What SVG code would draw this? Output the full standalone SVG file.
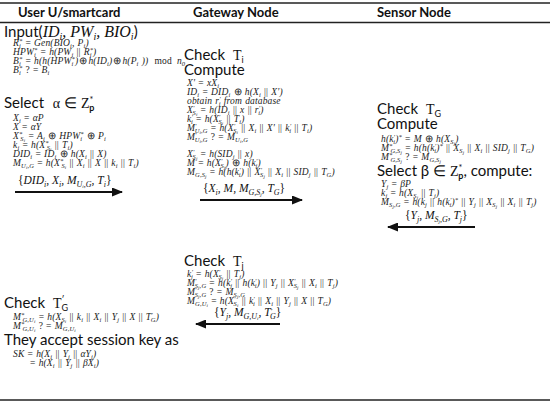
<svg xmlns="http://www.w3.org/2000/svg" width="550" height="406" viewBox="0 0 550 406">
<style>
.h{font-family:Lato,"Liberation Sans",sans-serif;font-weight:bold;font-size:13px;fill:#111}
.t{font-family:Lato,"Liberation Sans",sans-serif;font-size:15px;fill:#111}
.T{font-family:"Liberation Serif",serif;font-size:14px}
.Tb{font-size:9px;baseline-shift:-3px}
.Tp{font-size:9px;baseline-shift:5px}
.f{font-family:"Liberation Serif",serif;font-style:italic;font-size:9.5px;letter-spacing:0.15px;word-spacing:0.6px;fill:#222}
.m{font-family:"Liberation Serif",serif;font-style:italic;font-size:11.5px;fill:#111}
.in{font-family:"Liberation Serif",serif;font-style:italic;font-size:16px}
.r{font-style:normal}
.b{font-size:6.5px;baseline-shift:-2px}
.bb{font-size:5px;baseline-shift:-1px}
.p{font-size:6.5px;baseline-shift:3.5px}
.m .b{font-size:8px;baseline-shift:-3px}
.in .b{font-size:10px;baseline-shift:-3px}
.rule{stroke:#222;stroke-width:1.6}
.arr{stroke:#111;stroke-width:2;fill:none}
</style>
<defs>
<marker id="ah" markerWidth="11" markerHeight="9" refX="10" refY="4.5" orient="auto" markerUnits="userSpaceOnUse">
<path d="M0,0 L11,4.5 L0,9 Z" fill="#111"/>
</marker>
</defs>

<g id="header">
<line class="rule" x1="0" y1="3" x2="550" y2="3"/>
<line class="rule" x1="0" y1="22.5" x2="550" y2="22.5"/>
<line class="rule" x1="0" y1="400" x2="550" y2="400"/>
<text class="h" x="18" y="17">User U/smartcard</text>
<text class="h" x="193" y="17">Gateway Node</text>
<text class="h" x="377" y="17">Sensor Node</text>
</g>

<g id="user">
<text class="t" x="4" y="37">Input(<tspan class="in">ID<tspan class="b">i</tspan>, PW<tspan class="b">i</tspan>, BIO<tspan class="b">i</tspan></tspan>)</text>
<text class="f" x="13" y="46">R<tspan class="b">i</tspan><tspan class="p" dx="-2">*</tspan> <tspan class="r">=</tspan> Gen(BIO<tspan class="b">i</tspan>, P<tspan class="b">i</tspan>)</text>
<text class="f" x="13" y="55">HPW<tspan class="b">i</tspan><tspan class="p" dx="-2">*</tspan> <tspan class="r">=</tspan> h(PW<tspan class="b">i</tspan> <tspan class="r">||</tspan> R<tspan class="b">i</tspan><tspan class="p" dx="-2">*</tspan>)</text>
<text class="f" x="13" y="64">B<tspan class="b">i</tspan><tspan class="p" dx="-2">*</tspan> <tspan class="r">=</tspan> h(h(HPW<tspan class="b">i</tspan><tspan class="p" dx="-2">*</tspan>)<tspan class="r" dx="1">⊕</tspan><tspan dx="1">h(ID</tspan><tspan class="b">i</tspan>)<tspan class="r" dx="1">⊕</tspan><tspan dx="1">h(P</tspan><tspan class="b">i</tspan> )) <tspan class="r" dx="3">mod</tspan> <tspan dx="2">n</tspan><tspan class="b">0</tspan></text>
<text class="f" x="13" y="73">B<tspan class="b">i</tspan><tspan class="p" dx="-2">*</tspan> <tspan class="r">? =</tspan> B<tspan class="b">i</tspan></text>

<text class="t" x="4" y="108">Select <tspan class="T" dx="5">α</tspan> ∈ <tspan class="T">Z</tspan><tspan class="Tp">*</tspan><tspan class="Tb" dx="-4" font-weight="bold">p</tspan></text>
<text class="f" x="13" y="121">X<tspan class="b">i</tspan> <tspan class="r">=</tspan> αP</text>
<text class="f" x="13" y="130">X <tspan class="r">=</tspan> αY</text>
<text class="f" x="13" y="139">X<tspan class="p">*</tspan><tspan class="b" dx="-2">S<tspan class="bb">i</tspan></tspan> <tspan class="r">=</tspan> A<tspan class="b">i</tspan> <tspan class="r">⊕</tspan> HPW<tspan class="b">i</tspan><tspan class="p" dx="-2">*</tspan> <tspan class="r">⊕</tspan> P<tspan class="b">i</tspan></text>
<text class="f" x="13" y="148">k<tspan class="b">i</tspan> <tspan class="r">=</tspan> h(X<tspan class="p">*</tspan><tspan class="b" dx="-2">S<tspan class="bb">i</tspan></tspan> <tspan class="r">||</tspan> T<tspan class="b">i</tspan>)</text>
<text class="f" x="13" y="157">DID<tspan class="b">i</tspan> <tspan class="r">=</tspan> ID<tspan class="b">i</tspan> <tspan class="r">⊕</tspan> h(X<tspan class="b">i</tspan> <tspan class="r">||</tspan> X)</text>
<text class="f" x="13" y="166">M<tspan class="b">U<tspan class="bb">i</tspan>,G</tspan> <tspan class="r">=</tspan> h(X<tspan class="p">*</tspan><tspan class="b" dx="-2">S<tspan class="bb">i</tspan></tspan> <tspan class="r">||</tspan> X<tspan class="b">i</tspan> <tspan class="r">||</tspan> X <tspan class="r">||</tspan> k<tspan class="b">i</tspan> <tspan class="r">||</tspan> T<tspan class="b">i</tspan>)</text>

<text class="t" x="4" y="308">Check <tspan class="T" dx="4">T</tspan><tspan class="Tp">′</tspan><tspan class="Tb" dx="-3">G</tspan></text>
<text class="f" x="13" y="320">M<tspan class="p">*</tspan><tspan class="b" dx="-2">G,U<tspan class="bb">i</tspan></tspan> <tspan class="r">=</tspan> h(X<tspan class="b">S<tspan class="bb">i</tspan></tspan> <tspan class="r">||</tspan> k<tspan class="b">i</tspan>  <tspan class="r">||</tspan> X<tspan class="b">i</tspan> <tspan class="r">||</tspan> Y<tspan class="b">j</tspan> <tspan class="r">||</tspan> X <tspan class="r">||</tspan> T<tspan class="p">′</tspan><tspan class="b" dx="-2">G</tspan>)</text>
<text class="f" x="13" y="329">M<tspan class="p">*</tspan><tspan class="b" dx="-2">G,U<tspan class="bb">i</tspan></tspan> <tspan class="r">? =</tspan> M<tspan class="b">G,U<tspan class="bb">i</tspan></tspan></text>
<text class="t" x="4" y="345">They accept session key as</text>
<text class="f" x="13" y="357">SK <tspan class="r">=</tspan> h(X<tspan class="b">i</tspan> <tspan class="r">||</tspan> Y<tspan class="b">j</tspan> <tspan class="r">||</tspan> αY<tspan class="b">j</tspan>)</text>
<text class="f" x="30" y="366"><tspan class="r">=</tspan> h(X<tspan class="b">i</tspan> <tspan class="r">||</tspan> Y<tspan class="b">j</tspan> <tspan class="r">||</tspan> βX<tspan class="b">i</tspan>)</text>
</g>

<g id="gateway">
<text class="t" x="184" y="60">Check <tspan class="T" dx="4">T</tspan><tspan class="Tb">i</tspan></text>
<text class="t" x="184" y="75">Compute</text>
<text class="f" x="187" y="86">X' <tspan class="r">=</tspan> xX<tspan class="b">i</tspan></text>
<text class="f" x="187" y="95">ID<tspan class="b">i</tspan> <tspan class="r">=</tspan> DID<tspan class="b">i</tspan> <tspan class="r">⊕</tspan> h(X<tspan class="b">i</tspan> <tspan class="r">||</tspan> X')</text>
<text class="f" x="187" y="104">obtain r<tspan class="p">′</tspan><tspan class="b" dx="-2">i</tspan> from database</text>
<text class="f" x="187" y="113">X<tspan class="p">′</tspan><tspan class="b" dx="-2">S<tspan class="bb">i</tspan></tspan> <tspan class="r">=</tspan> h(ID<tspan class="b">i</tspan> <tspan class="r">||</tspan> x <tspan class="r">||</tspan> r<tspan class="p">′</tspan><tspan class="b" dx="-2">i</tspan>)</text>
<text class="f" x="187" y="122">k<tspan class="p">′</tspan><tspan class="b" dx="-2">i</tspan> <tspan class="r">=</tspan> h(X<tspan class="p">′</tspan><tspan class="b" dx="-2">S<tspan class="bb">i</tspan></tspan> <tspan class="r">||</tspan> T<tspan class="b">i</tspan>)</text>
<text class="f" x="187" y="131">M<tspan class="p">′</tspan><tspan class="b" dx="-2">U<tspan class="bb">i</tspan>,G</tspan> <tspan class="r">=</tspan> h(X<tspan class="p">′</tspan><tspan class="b" dx="-2">S<tspan class="bb">i</tspan></tspan> <tspan class="r">||</tspan> X<tspan class="b">i</tspan> <tspan class="r">||</tspan> X' <tspan class="r">||</tspan> k<tspan class="p">′</tspan><tspan class="b" dx="-2">i</tspan> <tspan class="r">||</tspan> T<tspan class="b">i</tspan>)</text>
<text class="f" x="187" y="140">M<tspan class="p">′</tspan><tspan class="b" dx="-2">U<tspan class="bb">i</tspan>,G</tspan> <tspan class="r">? =</tspan> M<tspan class="b">U<tspan class="bb">i</tspan>,G</tspan></text>
<text class="f" x="187" y="157">X<tspan class="p">′</tspan><tspan class="b" dx="-2">S<tspan class="bb">j</tspan></tspan> <tspan class="r">=</tspan> h(SID<tspan class="b">j</tspan> <tspan class="r">||</tspan> x)</text>
<text class="f" x="187" y="166">M <tspan class="r">=</tspan> h(X<tspan class="p">′</tspan><tspan class="b" dx="-2">S<tspan class="bb">j</tspan></tspan>) <tspan class="r">⊕</tspan> h(k<tspan class="p">′</tspan><tspan class="b" dx="-2">i</tspan>)</text>
<text class="f" x="187" y="175">M<tspan class="b">G,S<tspan class="bb">j</tspan></tspan> <tspan class="r">=</tspan> h(h(k<tspan class="p">′</tspan><tspan class="b" dx="-2">i</tspan>) <tspan class="r">||</tspan> X<tspan class="p">′</tspan><tspan class="b" dx="-2">S<tspan class="bb">j</tspan></tspan> <tspan class="r">||</tspan> X<tspan class="b">i</tspan> <tspan class="r">||</tspan> SID<tspan class="b">j</tspan> <tspan class="r">||</tspan> T<tspan class="b">G</tspan>)</text>

<text class="t" x="184" y="266">Check <tspan class="T" dx="4">T</tspan><tspan class="Tb">j</tspan></text>
<text class="f" x="187" y="277">k<tspan class="p">′</tspan><tspan class="b" dx="-2">j</tspan> <tspan class="r">=</tspan> h(X<tspan class="p">′</tspan><tspan class="b" dx="-2">S<tspan class="bb">j</tspan></tspan> <tspan class="r">||</tspan> T<tspan class="b">j</tspan>)</text>
<text class="f" x="187" y="286">M<tspan class="p">′</tspan><tspan class="b" dx="-2">S<tspan class="bb">j</tspan>,G</tspan> <tspan class="r">=</tspan> h(k<tspan class="p">′</tspan><tspan class="b" dx="-2">j</tspan> <tspan class="r">||</tspan> h(k<tspan class="p">′</tspan><tspan class="b" dx="-2">i</tspan>) <tspan class="r">||</tspan> Y<tspan class="b">j</tspan> <tspan class="r">||</tspan> X<tspan class="p">′</tspan><tspan class="b" dx="-2">S<tspan class="bb">j</tspan></tspan> <tspan class="r">||</tspan> X<tspan class="b">i</tspan> <tspan class="r">||</tspan> T<tspan class="b">j</tspan>)</text>
<text class="f" x="187" y="295">M<tspan class="p">′</tspan><tspan class="b" dx="-2">S<tspan class="bb">j</tspan>,G</tspan> <tspan class="r">? =</tspan> M<tspan class="b">S<tspan class="bb">j</tspan>,G</tspan></text>
<text class="f" x="187" y="304">M<tspan class="b">G,U<tspan class="bb">i</tspan></tspan> <tspan class="r">=</tspan> h(X<tspan class="p">′</tspan><tspan class="b" dx="-2">S<tspan class="bb">i</tspan></tspan> <tspan class="r">||</tspan> k<tspan class="p">′</tspan><tspan class="b" dx="-2">i</tspan> <tspan class="r">||</tspan> X<tspan class="b">i</tspan> <tspan class="r">||</tspan> Y<tspan class="b">j</tspan> <tspan class="r">||</tspan> X <tspan class="r">||</tspan> T<tspan class="b">G</tspan>)</text>
</g>

<g id="sensor">
<text class="t" x="377" y="114">Check <tspan class="T" dx="4">T</tspan><tspan class="Tb">G</tspan></text>
<text class="t" x="377" y="129">Compute</text>
<text class="f" x="381" y="142">h(k<tspan class="p">′</tspan><tspan class="b" dx="-2">i</tspan>)<tspan class="p">*</tspan> <tspan class="r">=</tspan> M <tspan class="r">⊕</tspan> h(X<tspan class="b">S<tspan class="bb">j</tspan></tspan>)</text>
<text class="f" x="381" y="151">M<tspan class="p">*</tspan><tspan class="b" dx="-2">G,S<tspan class="bb">j</tspan></tspan> <tspan class="r">=</tspan> h(h(k<tspan class="p">′</tspan><tspan class="b" dx="-2">i</tspan>)<tspan class="p">*</tspan> <tspan class="r">||</tspan> X<tspan class="b">S<tspan class="bb">j</tspan></tspan> <tspan class="r">||</tspan> X<tspan class="b">i</tspan> <tspan class="r">||</tspan> SID<tspan class="b">j</tspan> <tspan class="r">||</tspan> T<tspan class="b">G</tspan>)</text>
<text class="f" x="381" y="160">M<tspan class="p">*</tspan><tspan class="b" dx="-2">G,S<tspan class="bb">j</tspan></tspan> <tspan class="r">? =</tspan> M<tspan class="b">G,S<tspan class="bb">j</tspan></tspan></text>
<text class="t" x="377" y="176">Select β ∈ <tspan class="T">Z</tspan><tspan class="Tp">*</tspan><tspan class="Tb" dx="-4" font-weight="bold">p</tspan>, compute:</text>
<text class="f" x="381" y="187">Y<tspan class="b">j</tspan>  <tspan class="r">=</tspan> βP</text>
<text class="f" x="381" y="196">k<tspan class="b">j</tspan> <tspan class="r">=</tspan> h(X<tspan class="b">S<tspan class="bb">j</tspan></tspan> <tspan class="r">||</tspan> T<tspan class="b">j</tspan>)</text>
<text class="f" x="381" y="205">M<tspan class="b">S<tspan class="bb">j</tspan>,G</tspan> <tspan class="r">=</tspan> h(k<tspan class="b">j</tspan> <tspan class="r">||</tspan> h(k<tspan class="p">′</tspan><tspan class="b" dx="-2">i</tspan>)<tspan class="p">*</tspan> <tspan class="r">||</tspan> Y<tspan class="b">j</tspan> <tspan class="r">||</tspan> X<tspan class="b">S<tspan class="bb">j</tspan></tspan> <tspan class="r">||</tspan> X<tspan class="b">i</tspan> <tspan class="r">||</tspan> T<tspan class="b">j</tspan>)</text>
</g>

<g id="connectors">
<text class="m" x="18" y="184"><tspan class="r">{</tspan>DID<tspan class="b">i</tspan>, X<tspan class="b">i</tspan>, M<tspan class="b">U<tspan class="bb">i</tspan>,G</tspan>, T<tspan class="b">i</tspan><tspan class="r">}</tspan></text>
<line class="arr" x1="15" y1="192" x2="122" y2="192" marker-end="url(#ah)"/>
<text class="m" x="203" y="192"><tspan class="r">{</tspan>X<tspan class="b">i</tspan>, M, M<tspan class="b">G,S<tspan class="bb">j</tspan></tspan>, T<tspan class="b">G</tspan><tspan class="r">}</tspan></text>
<line class="arr" x1="200" y1="200" x2="302" y2="200" marker-end="url(#ah)"/>
<text class="m" x="405" y="219"><tspan class="r">{</tspan>Y<tspan class="b">j</tspan>, M<tspan class="b">S<tspan class="bb">j</tspan>,G</tspan>, T<tspan class="b">j</tspan><tspan class="r">}</tspan></text>
<line class="arr" x1="475" y1="227" x2="388" y2="227" marker-end="url(#ah)"/>
<text class="m" x="214" y="316"><tspan class="r">{</tspan>Y<tspan class="b">j</tspan>, M<tspan class="b">G,U<tspan class="bb">i</tspan></tspan>, T<tspan class="p">′</tspan><tspan class="b" dx="-2">G</tspan><tspan class="r">}</tspan></text>
<line class="arr" x1="280" y1="324" x2="196" y2="324" marker-end="url(#ah)"/>
</g>
</svg>
